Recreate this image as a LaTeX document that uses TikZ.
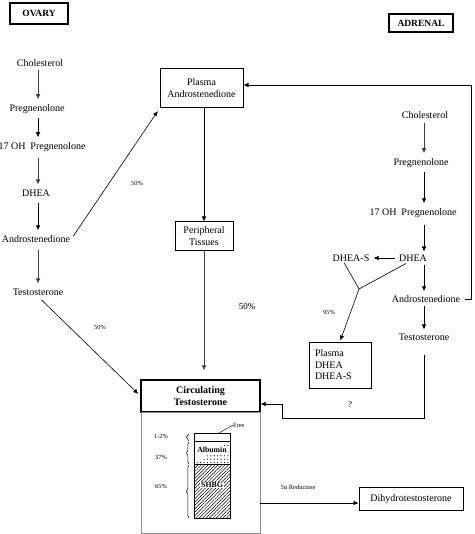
\documentclass[tikz,border=0pt]{standalone}
\usepackage{fontspec}
\setmainfont{Liberation Serif}
\usetikzlibrary{arrows.meta,decorations.pathreplacing,patterns.meta}
\begin{document}
\begin{tikzpicture}[x=1pt,y=-1pt,
  lbl/.style={inner sep=1pt,font=\fontsize{10}{11}\selectfont},
  sm/.style={inner sep=0pt,font=\fontsize{6.3}{7}\selectfont},
  boxs/.style={draw,line width=1pt,align=center,inner sep=1pt,font=\fontsize{10}{12}\selectfont},
  organ/.style={draw,line width=1.4pt,inner sep=1pt,font=\bfseries\fontsize{9.5}{11}\selectfont},
  arr/.style={-{Latex[length=5pt,width=4.5pt]},line width=0.6pt},
  farr/.style={arr,black!75},
  ln/.style={line width=0.6pt},
  brc/.style={decorate,decoration={brace,amplitude=2.5pt},line width=0.5pt}]
\useasboundingbox (0,0) rectangle (474,534);

% organ labels
\node[organ,minimum width=58,minimum height=21] (ovary) at (39,13.5) {OVARY};
\node[organ,minimum width=64,minimum height=18] (adrenal) at (421,23) {ADRENAL};

% ovary chain
\coordinate (ox) at (38,0);
\node[lbl] (oc) at (40,63) {Cholesterol};
\node[lbl] (op) at (37,109) {Pregnenolone};
\node[lbl] (o17) at (42,147) {17 OH\ \ Pregnenolone};
\node[lbl] (od) at (36,193) {DHEA};
\node[lbl] (oa) at (36,239) {Androstenedione};
\node[lbl] (ot) at (38,292) {Testosterone};
\draw[farr,shorten <=2pt,shorten >=4pt] (oc.south -| ox) -- (op.north -| ox);
\draw[arr,shorten <=3pt,shorten >=4pt] (op.south -| ox) -- (o17.north -| ox);
\draw[farr,shorten <=5pt,shorten >=4pt] (o17.south -| ox) -- (od.north -| ox);
\draw[arr,shorten <=5pt,shorten >=4pt] (od.south -| ox) -- (oa.north -| ox);
\draw[farr,shorten <=6pt,shorten >=4pt] (oa.south -| ox) -- (ot.north -| ox);

% central boxes
\node[boxs,minimum width=83,minimum height=39] (pa) at (201.5,88.5) {Plasma\\Androstenedione};
\node[boxs,minimum width=58,minimum height=28] (pt) at (204,236) {Peripheral\\Tissues};
\node[boxs,line width=1.2pt,minimum width=119,minimum height=32,font=\bfseries\fontsize{10}{12}\selectfont] (ct) at (200.5,396) {Circulating\\Testosterone};
\node[draw=black!45,line width=0.8pt,minimum width=119,minimum height=121,inner sep=0pt] (ctl) at (200.5,472.5) {};

\draw[arr,shorten <=3pt,shorten >=3pt] (oa.east) -- (pa.south west);
\node[sm] (p1) at (137,183) {50\%};
\draw[arr] (pa.south -| pt) -- (pt.north);
\draw[farr,shorten >=9pt] (pt.south) -- (ct.north -| pt);
\node[lbl,font=\fontsize{9}{10}\selectfont] (p2) at (247,307) {50\%};
\draw[arr,shorten <=5pt,shorten >=3pt] (ot.south) -- (ct.west);
\node[sm] (p3) at (100,327) {50\%};

% adrenal chain
\coordinate (ax) at (424,0);
\node[lbl] (ac) at (425,115) {Cholesterol};
\node[lbl] (ap) at (421,163) {Pregnenolone};
\node[lbl] (a17) at (413,213) {17 OH\ \ Pregnenolone};
\node[lbl] (ad) at (413,258) {DHEA};
\node[lbl] (ads) at (351,258) {DHEA-S};
\node[lbl] (aa) at (426,299) {Androstenedione};
\node[lbl] (at) at (424,337) {Testosterone};
\draw[farr,shorten <=3pt,shorten >=4pt] (ac.south -| ax) -- (ap.north -| ax);
\draw[arr,shorten <=3pt,shorten >=4pt] (ap.south -| ax) -- (a17.north -| ax);
\draw[arr,shorten <=6pt,shorten >=2pt] (a17.south -| ax) -- (ad.north -| ax);
\draw[arr,shorten <=2pt,shorten >=3pt] (ad.south -| ax) -- (aa.north -| ax);
\draw[arr,shorten <=2pt,shorten >=3pt] (aa.south -| ax) -- (at.north -| ax);
\draw[arr,shorten <=3pt,shorten >=3pt] (ad.west) -- (ads.east);

% Y junction to plasma DHEA
\node[draw,line width=1pt,minimum width=62,minimum height=46,inner sep=0pt,text width=50,align=left,font=\fontsize{10}{11.5}\selectfont] (pd) at (340,365) {Plasma\\DHEA\\DHEA-S};
\coordinate (yj) at (359,289);
\draw[ln] ([xshift=-7pt]ads.south) -- (yj);
\draw[ln] ([xshift=-7pt,yshift=-1pt]ad.south) -- (yj);
\draw[arr,shorten >=1pt] (yj) -- (pd.north);
\node[sm] (p4) at (329,312) {95\%};

% adrenal androstenedione back to plasma androstenedione
\coordinate (tr) at (471,85);
\draw[arr] ([xshift=4pt]aa.east) -| (tr) -- (tr -| pa.east);

% adrenal testosterone to circulating testosterone
\coordinate (q1) at (424,418);
\coordinate (q2) at (282,404);
\draw[arr,shorten <=13pt] (at.south) -- (q1) -| (q2) -- (q2 -| ct.east);
\node[lbl,font=\fontsize{9}{10}\selectfont] (qm) at (350,405) {?};

% 5 alpha reductase
\node[draw,line width=0.8pt,minimum width=104,minimum height=23,inner sep=0pt,font=\fontsize{10}{11}\selectfont] (dht) at (411,499) {Dihydrotestosterone};
\coordinate (r1) at (0,503);
\draw[arr] (ctl.east |- r1) -- (dht.west |- r1);
\node[sm,font=\fontsize{6.5}{7}\selectfont] (red) at (298,487) {5α Reductase};

% bar of binding
\coordinate (b1) at (194,433);
\coordinate (b2) at (230,441);
\coordinate (b3) at (194,464);
\coordinate (b4) at (230,518);
\fill[pattern={Dots[distance=3.4pt,radius=0.6pt]}] (b1 |- b2) rectangle (b2 -| b4) |- (b3) -- cycle;
\fill[pattern={Lines[angle=45,distance=2.4pt,line width=0.5pt]}] (b3) rectangle (b4);
\draw[line width=0.8pt] (b1) rectangle (b4);
\draw[line width=0.5pt] (b1 |- b2) -- (b2);
\draw[line width=0.5pt] (b3) -- (b3 -| b4);
\node[inner sep=0.8pt,fill=white,font=\bfseries\fontsize{7.8}{9}\selectfont] (alb) at (212,450) {Albumin};
\node[inner sep=0.8pt,fill=white,font=\bfseries\fontsize{7.8}{9}\selectfont] (shbg) at (212,485) {SHBG};
\coordinate (fr) at (218,433.5);
\node[sm,font=\fontsize{6.3}{7}\selectfont,anchor=west] (free) at (233,425) {Free};
\draw[line width=0.4pt] (fr) -- (free.west);

\draw[brc] (189,441) -- (189,433.5);
\draw[brc] (189,464) -- (189,442);
\draw[brc] (189,518) -- (189,465);
\node[sm] (l1) at (161,436) {1-2\%};
\node[sm] (l2) at (161,457) {37\%};
\node[sm] (l3) at (161,486) {65\%};
\end{tikzpicture}
\end{document}
